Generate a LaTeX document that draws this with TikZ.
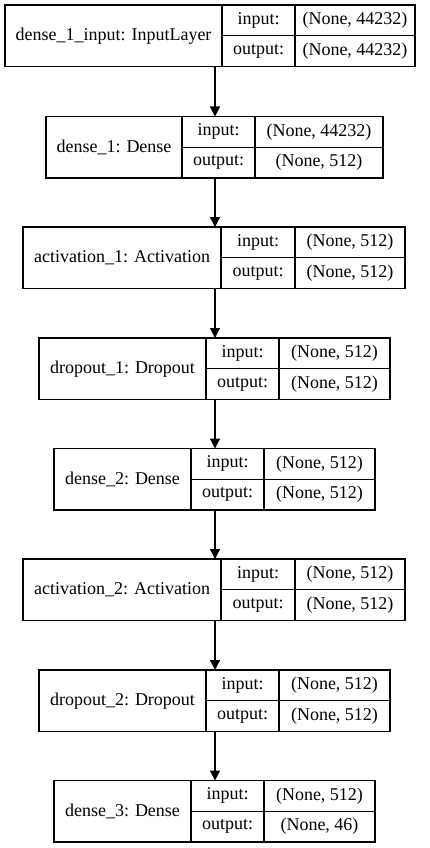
\documentclass[tikz,border=0pt]{standalone}
\usepackage{fontspec}
\setmainfont{Liberation Serif}
\usetikzlibrary{arrows.meta}
\tikzset{
  cellbox/.style={draw=black, line width=1.3pt, inner sep=0pt, outer sep=0pt, font=\fontsize{18}{21}\selectfont, text=black},
  arr/.style={draw=black, line width=1.3pt, -{Triangle[length=10pt,width=10pt]}}
}
\newcommand\klayer[9]{%
  \node[cellbox, minimum width={(#4-#3)*1pt}, minimum height=61.5pt, anchor=north west] (#1) at (#3,#7) {#2};
  \node[cellbox, minimum width={(#5-#4)*1pt}, minimum height=30.75pt, anchor=north west] (#1-il) at (#4,#7) {input:};
  \node[cellbox, minimum width={(#6-#5)*1pt}, minimum height=30.75pt, anchor=north west] (#1-iv) at (#5,#7) {#8};
  \node[cellbox, minimum width={(#5-#4)*1pt}, minimum height=30.75pt, anchor=south west] (#1-ol) at (#4,{#7+61.5}) {output:};
  \node[cellbox, minimum width={(#6-#5)*1pt}, minimum height=30.75pt, anchor=south west] (#1-ov) at (#5,{#7+61.5}) {#9};
}
\begin{document}
\begin{tikzpicture}[x=1pt,y=-1pt]
\fill[white] (0,0) rectangle (429,848);
\useasboundingbox (0,0) rectangle (429,848);
\coordinate (axis) at (215,0);
\klayer{L1}{dense\_1\_input: InputLayer}{5}{222}{295}{415}{5}{(None, 44232)}{(None, 44232)}
\klayer{L2}{dense\_1: Dense}{46}{182}{255}{383}{116.5}{(None, 44232)}{(None, 512)}
\klayer{L3}{activation\_1: Activation}{23}{221}{295}{405}{227}{(None, 512)}{(None, 512)}
\klayer{L4}{dropout\_1: Dropout}{39}{206}{279}{390}{338}{(None, 512)}{(None, 512)}
\klayer{L5}{dense\_2: Dense}{54}{191}{264}{375}{448.5}{(None, 512)}{(None, 512)}
\klayer{L6}{activation\_2: Activation}{23}{221}{295}{405}{559}{(None, 512)}{(None, 512)}
\klayer{L7}{dropout\_2: Dropout}{39}{206}{279}{390}{670}{(None, 512)}{(None, 512)}
\klayer{L8}{dense\_3: Dense}{54}{191}{264}{375}{780.5}{(None, 512)}{(None, 46)}
\draw[arr] (L1.south -| axis) -- (L2.north -| axis);
\draw[arr] (L2.south -| axis) -- (L3.north -| axis);
\draw[arr] (L3.south -| axis) -- (L4.north -| axis);
\draw[arr] (L4.south -| axis) -- (L5.north -| axis);
\draw[arr] (L5.south -| axis) -- (L6.north -| axis);
\draw[arr] (L6.south -| axis) -- (L7.north -| axis);
\draw[arr] (L7.south -| axis) -- (L8.north -| axis);
\end{tikzpicture}
\end{document}
